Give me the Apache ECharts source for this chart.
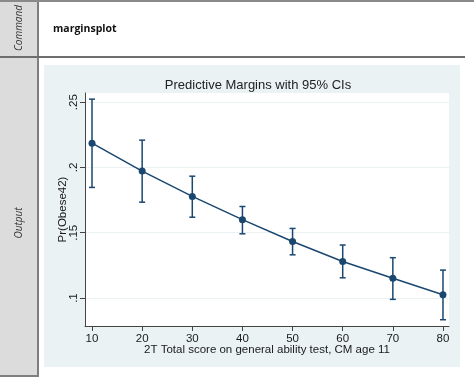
<!DOCTYPE html>
<html>
<head>
<meta charset="utf-8">
<script src="https://cdn.jsdelivr.net/npm/echarts@6/dist/echarts.min.js"></script>
<style>
  html, body { margin: 0; padding: 0; background: #fff; }
  #chart { width: 474px; height: 377px; }
</style>
</head>
<body>
<div id="chart"></div>
<script>
// ability test score groups
const scores = [10, 20, 30, 40, 50, 60, 70, 80];
// predicted margins and 95% CI
const margins = [0.2186, 0.1972, 0.1778, 0.1600, 0.1433, 0.1280, 0.1151, 0.1025];
const ciLow   = [0.1847, 0.1734, 0.1619, 0.1492, 0.1331, 0.1155, 0.0990, 0.0834];
const ciHigh  = [0.2523, 0.2209, 0.1933, 0.1701, 0.1533, 0.1406, 0.1309, 0.1214];
// tick labels
const yTicks = [0.1, 0.15, 0.2, 0.25];
const yTickLabels = ['.1', '.15', '.2', '.25'];
const xTicks = [10, 20, 30, 40, 50, 60, 70, 80];

const navy = '#1a476f';
const font = '"Liberation Sans", Arial, sans-serif';

let chart = echarts.init(document.getElementById('chart'));

let ciData = scores.map((s, i) => [s, ciLow[i], ciHigh[i]]);

function renderErrorBar(params, api) {
    let x = api.value(0);
    let lo = api.coord([x, api.value(1)]);
    let hi = api.coord([x, api.value(2)]);
    let cap = 3;
    let st = { stroke: navy, lineWidth: 1.5 };
    return {
        type: 'group',
        children: [
            { type: 'line', shape: { x1: lo[0], y1: lo[1], x2: hi[0], y2: hi[1] }, style: st },
            { type: 'line', shape: { x1: lo[0] - cap, y1: lo[1], x2: lo[0] + cap, y2: lo[1] }, style: st },
            { type: 'line', shape: { x1: hi[0] - cap, y1: hi[1], x2: hi[0] + cap, y2: hi[1] }, style: st }
        ]
    };
}

let option = {
    animation: false,
    textStyle: { fontFamily: font },
    graphic: [
        // left label column
        { type: 'rect', left: 0, top: 0, shape: { width: 37, height: 377 }, style: { fill: '#dcdcdc' }, z: -10 },
        { type: 'rect', left: 37, top: 0, shape: { width: 2, height: 377 }, style: { fill: '#7f7f7f' }, z: -9 },
        { type: 'rect', left: 0, top: 0, shape: { width: 474, height: 2 }, style: { fill: '#8a8a8a' }, z: -9 },
        { type: 'rect', left: 0, top: 56, shape: { width: 465, height: 2 }, style: { fill: '#6e6e6e' }, z: -9 },
        { type: 'rect', left: 0, top: 375, shape: { width: 39, height: 2 }, style: { fill: '#7f7f7f' }, z: -9 },
        {
            type: 'text', x: 19, y: 28, rotation: Math.PI / 2,
            style: { text: 'Command', font: 'italic 10px "Open Sans", sans-serif', fill: '#333', align: 'center', verticalAlign: 'middle' }
        },
        {
            type: 'text', x: 19, y: 223, rotation: Math.PI / 2,
            style: { text: 'Output', font: 'italic 10px "Open Sans", sans-serif', fill: '#333', align: 'center', verticalAlign: 'middle' }
        },
        {
            type: 'text', x: 53, y: 29,
            style: { text: 'marginsplot', font: 'bold 10.5px "Open Sans", sans-serif', fill: '#111', verticalAlign: 'middle' }
        },
        // Stata graph background
        { type: 'rect', left: 44, top: 65, shape: { width: 416, height: 302 }, style: { fill: '#eaf2f3' }, z: -8 }
    ],
    title: {
        text: 'Predictive Margins with 95% CIs',
        left: 253, top: 74, textAlign: 'center',
        textStyle: { fontSize: 13, fontWeight: 'normal', color: '#222', fontFamily: font }
    },
    grid: {
        left: 85, top: 93, right: 25, bottom: 51,
        show: true, backgroundColor: '#ffffff', borderWidth: 0
    },
    xAxis: {
        type: 'value', min: 8.6, max: 81.2,
        name: '2T Total score on general ability test, CM age 11',
        nameLocation: 'middle', nameGap: 18, nameMoveOverlap: false,
        nameTextStyle: { fontSize: 11.5, color: '#1a1a1a' },
        axisLine: { onZero: false, lineStyle: { color: '#444', width: 1 } },
        axisTick: { show: true, length: 5, customValues: xTicks, lineStyle: { color: '#444' } },
        axisLabel: { customValues: xTicks, fontSize: 11.5, color: '#1a1a1a', margin: 7 },
        splitLine: { show: false }
    },
    yAxis: {
        type: 'value', min: 0.0786, max: 0.257,
        name: 'Pr(Obese42)',
        nameLocation: 'middle', nameGap: 16, nameRotate: 90, nameMoveOverlap: false,
        nameTextStyle: { fontSize: 11.5, color: '#1a1a1a' },
        axisLine: { show: true, onZero: false, lineStyle: { color: '#444', width: 1 } },
        axisTick: { show: true, length: 5, customValues: yTicks, lineStyle: { color: '#444' } },
        axisLabel: {
            customValues: yTicks, rotate: 90, fontSize: 11.5, color: '#1a1a1a', margin: 5,
            formatter: v => yTickLabels[yTicks.findIndex(t => Math.abs(t - v) < 1e-9)] || ''
        },
        splitLine: { show: true, lineStyle: { color: '#eaf2f3', width: 1 } }
    },
    series: [
        {
            type: 'custom',
            renderItem: renderErrorBar,
            data: ciData,
            encode: { x: 0, y: [1, 2] },
            z: 2
        },
        {
            type: 'line',
            data: scores.map((s, i) => [s, margins[i]]),
            symbol: 'circle', symbolSize: 7,
            lineStyle: { color: navy, width: 1.5 },
            itemStyle: { color: navy },
            z: 3
        }
    ]
};

chart.setOption(option);
</script>
</body>
</html>
